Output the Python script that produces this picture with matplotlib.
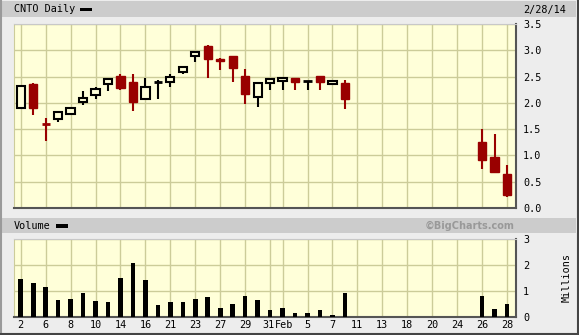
import numpy as np
import matplotlib
matplotlib.use('Agg')
import matplotlib.pyplot as plt
import matplotlib.transforms as mtransforms
from matplotlib.patches import Rectangle
from matplotlib.lines import Line2D

# ---------------- data ----------------
dates = ['1/2', '1/3', '1/6', '1/7', '1/8', '1/9', '1/10', '1/13', '1/14', '1/15',
         '1/16', '1/17', '1/21', '1/22', '1/23', '1/24', '1/27', '1/28', '1/29', '1/30',
         '1/31', '2/3', '2/4', '2/5', '2/6', '2/7', '2/10', '2/11', '2/12', '2/13',
         '2/14', '2/18', '2/19', '2/20', '2/21', '2/24', '2/25', '2/26', '2/27', '2/28']
nan = np.nan
opens = [1.91, 2.36, 1.60, 1.69, 1.78, 2.01, 2.14, 2.35, 2.51, 2.40,
         2.08, 2.40, 2.39, 2.58, 2.90, 3.08, 2.83, 2.89, 2.51, 2.12,
         2.37, 2.41, 2.47, 2.42, 2.51, 2.35, 2.38, nan, nan, nan,
         nan, nan, nan, nan, nan, nan, nan, 1.26, 0.97, 0.65]
highs = [2.33, 2.38, 1.71, 1.82, 1.91, 2.22, 2.30, 2.45, 2.55, 2.55,
         2.47, 2.43, 2.55, 2.68, 2.96, 3.10, 2.85, 2.89, 2.64, 2.40,
         2.45, 2.47, 2.47, 2.42, 2.51, 2.43, 2.43, nan, nan, nan,
         nan, nan, nan, nan, nan, nan, nan, 1.50, 1.41, 0.81]
lows = [1.91, 1.76, 1.28, 1.64, 1.78, 1.95, 2.08, 2.23, 2.25, 1.85,
        2.06, 2.08, 2.31, 2.54, 2.78, 2.48, 2.63, 2.40, 1.98, 1.93,
        2.25, 2.25, 2.25, 2.25, 2.25, 2.35, 1.89, nan, nan, nan,
        nan, nan, nan, nan, nan, nan, nan, 0.75, 0.69, 0.20]
closes = [2.33, 1.91, 1.60, 1.82, 1.90, 2.10, 2.26, 2.45, 2.29, 2.02,
          2.31, 2.40, 2.50, 2.68, 2.96, 2.84, 2.80, 2.67, 2.17, 2.38,
          2.45, 2.47, 2.40, 2.42, 2.40, 2.41, 2.08, nan, nan, nan,
          nan, nan, nan, nan, nan, nan, nan, 0.92, 0.69, 0.25]
volume_m = [1.45, 1.33, 1.14, 0.67, 0.71, 0.94, 0.63, 0.59, 1.52, 2.07,
            1.41, 0.48, 0.59, 0.56, 0.71, 0.79, 0.36, 0.52, 0.83, 0.67,
            0.28, 0.36, 0.17, 0.17, 0.28, 0.09, 0.94, nan, nan, nan,
            nan, nan, nan, nan, nan, nan, nan, 0.83, 0.32, 0.52]
tick_idx = [0, 2, 4, 6, 8, 10, 12, 14, 16, 18, 20, 21, 23, 25, 27, 29, 31, 33, 35, 37, 39]
tick_labels = ['2', '6', '8', '10', '14', '16', '21', '23', '27', '29', '31', 'Feb',
               '5', '7', '11', '13', '18', '20', '24', '26', '28']
price_ticks = [0.0, 0.5, 1.0, 1.5, 2.0, 2.5, 3.0, 3.5]
price_labels = ['0.0', '0.5', '1.0', '1.5', '2.0', '2.5', '3.0', '3.5']
vol_ticks = [0, 1, 2, 3]
vol_labels = ['0', '1', '2', '3']
title = 'CNTO Daily'
date_label = '2/28/14'

# ---------------- style ----------------
W, H = 579, 335
BG = '#EDEDED'
BAR = '#CCCCCC'
PLOT_BG = '#FFFFD9'
GRID = '#CCCC99'
RED = '#990000'
MONO = 'DejaVu Sans Mono'
FS = 7.3

fig = plt.figure(figsize=(W / 100, H / 100), dpi=100)
fig.patch.set_facecolor(BG)


def fx(x):
    return x / W


def fy(y):
    return 1 - y / H


def add_ax(x0, y0, x1, y1):
    return fig.add_axes([fx(x0), fy(y1), (x1 - x0) / W, (y1 - y0) / H])


def frect(x0, y0, x1, y1, color):
    fig.patches.append(Rectangle((fx(x0), fy(y1)), (x1 - x0) / W, (y1 - y0) / H,
                                 transform=fig.transFigure, facecolor=color,
                                 edgecolor='none', zorder=0))


# header bars
frect(2, 1, 576, 17, BAR)
frect(2, 218, 576, 233, BAR)

# legend swatches
frect(80, 8, 92, 11, 'black')
frect(56, 224, 68, 227.5, 'black')

fig.text(fx(14), fy(9.5), title, family=MONO, fontsize=FS, va='center', ha='left')
fig.text(fx(523), fy(9.5), date_label, family=MONO, fontsize=FS, va='center', ha='left')
fig.text(fx(14), fy(226), 'Volume', family=MONO, fontsize=FS, va='center', ha='left')
fig.text(fx(515), fy(225.7), '\u00a9BigCharts.com', family='DejaVu Sans', fontweight='bold',
         fontsize=7.0, color='#999999', va='center', ha='right')
fig.text(fx(567), fy(277), 'Millions', family=MONO, fontsize=FS, rotation=90,
         va='center', ha='center')

# figure border
fig.add_artist(Line2D([fx(0.8), fx(0.8)], [0, 1], color='#9A9A9A', lw=1.5, transform=fig.transFigure))
fig.add_artist(Line2D([fx(577.8), fx(577.8)], [0, 1], color='#444444', lw=1.5, transform=fig.transFigure))
fig.add_artist(Line2D([0, 1], [fy(333.8), fy(333.8)], color='#444444', lw=1.5, transform=fig.transFigure))

XLIM = (-0.54, 39.72)


def style_axes(ax):
    ax.set_facecolor(PLOT_BG)
    ax.set_xlim(*XLIM)
    ax.set_xticks(tick_idx)
    ax.tick_params(length=0)
    ax.grid(True, color=GRID, lw=1.0, zorder=0)
    ax.set_axisbelow(True)
    ax.spines['left'].set_color(GRID)
    ax.spines['top'].set_color('#C8C8C8')
    ax.spines['right'].set_color('#555555')
    ax.spines['bottom'].set_color('#555555')
    ax.spines['right'].set_linewidth(1.5)
    ax.spines['bottom'].set_linewidth(1.5)
    ax.yaxis.tick_right()


# ---------------- price panel ----------------
ax = add_ax(14, 24, 516, 208)
style_axes(ax)
ax.set_ylim(0, 3.5)
ax.set_yticks(price_ticks)
ax.set_yticklabels(price_labels, family=MONO, fontsize=FS)
ax.tick_params(axis='y', pad=5)
ax.set_xticklabels([])

bw = 0.66
prev_close = None
for i in range(len(dates)):
    o, h, l, c = opens[i], highs[i], lows[i], closes[i]
    if np.isnan(c):
        continue
    col = RED if (prev_close is not None and c < prev_close) else 'black'
    ax.vlines(i, l, h, color=col, lw=1.5, zorder=3)
    if abs(c - o) < 1e-9:
        ax.hlines(c, i - bw / 2, i + bw / 2, color=col, lw=2.0, zorder=4)
    elif c < o:
        ax.add_patch(Rectangle((i - bw / 2, c), bw, o - c, facecolor=col,
                               edgecolor=col, lw=1.0, zorder=4))
    else:
        ax.add_patch(Rectangle((i - bw / 2, o), bw, c - o, facecolor=PLOT_BG,
                               edgecolor=col, lw=1.5, zorder=4))
    prev_close = c

# ---------------- volume panel ----------------
ax2 = add_ax(14, 239.3, 516, 317)
style_axes(ax2)
ax2.set_ylim(0, 3)
ax2.set_yticks(vol_ticks)
ax2.set_yticklabels(vol_labels, family=MONO, fontsize=FS)
ax2.tick_params(axis='y', pad=5)
ax2.set_xticklabels(tick_labels, family=MONO, fontsize=FS)
ax2.tick_params(axis='x', pad=2.5)
# nudge the adjacent "31" / "Feb" labels apart slightly
for lab in ax2.get_xticklabels():
    if lab.get_text() == '31':
        lab.set_transform(lab.get_transform() + mtransforms.ScaledTranslation(-1.5 / 100, 0, fig.dpi_scale_trans))
    elif lab.get_text() == 'Feb':
        lab.set_transform(lab.get_transform() + mtransforms.ScaledTranslation(1.5 / 100, 0, fig.dpi_scale_trans))
x = np.arange(len(dates))
v = np.array(volume_m)
m = ~np.isnan(v)
ax2.bar(x[m], v[m], width=0.37, color='black', zorder=3)

fig.savefig('out.png', dpi=100, facecolor=fig.get_facecolor())
